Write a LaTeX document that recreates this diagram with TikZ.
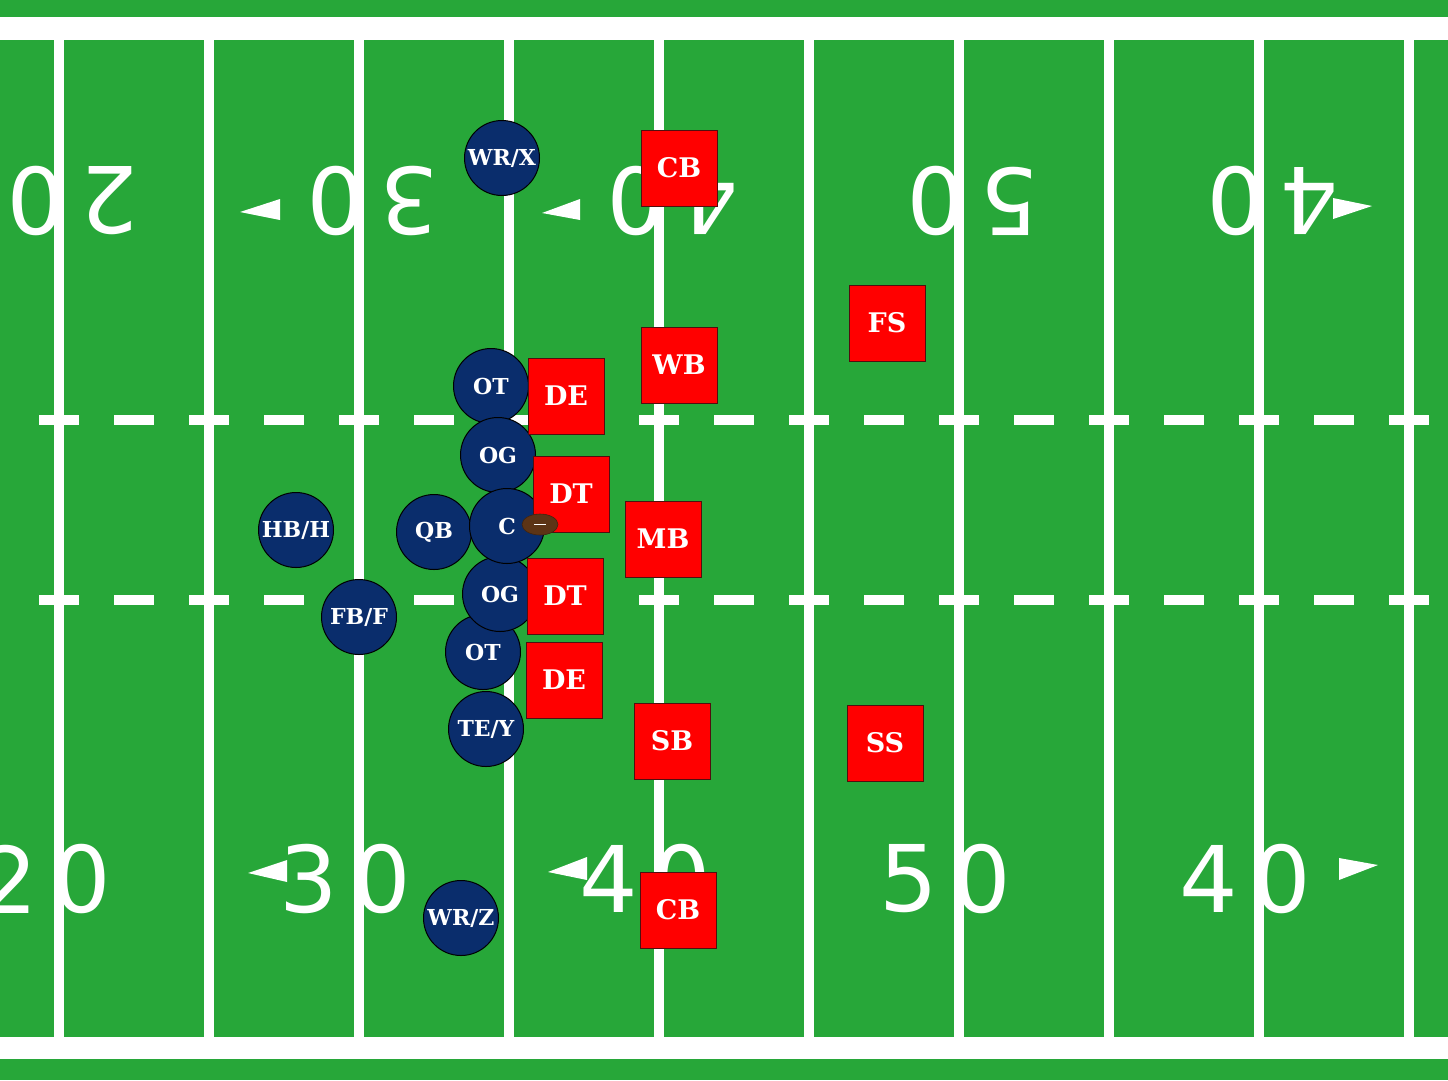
\documentclass[tikz,border=0pt]{standalone}
\usepackage{fontspec}
\usetikzlibrary{shapes.geometric}
\newfontfamily\numfont{DejaVu Sans}
\newfontfamily\plfont{DejaVu Serif}
\definecolor{turf}{RGB}{39,167,57}
\definecolor{navy}{RGB}{10,45,108}
\definecolor{redpl}{RGB}{255,0,0}
\definecolor{edgered}{RGB}{80,15,15}
\definecolor{ballbrown}{RGB}{92,52,22}
\tikzset{
  numtxt/.style={text=white, inner sep=0pt, font=\numfont\fontsize{92}{92}\selectfont},
  offp/.style={circle, draw=black, line width=1pt, fill=navy, minimum size=75pt, inner sep=0pt,
    text=white, font=\plfont\bfseries\fontsize{22}{22}\selectfont},
  defp/.style={rectangle, draw=edgered, line width=1pt, fill=redpl, minimum size=76pt, inner sep=0pt,
    text=white, font=\plfont\bfseries\fontsize{27}{27}\selectfont},
  ballst/.style={ellipse, fill=ballbrown, draw=ballbrown!70!black, line width=0.6pt,
    minimum width=36pt, minimum height=21pt, inner sep=0pt}
}
\begin{document}
\begin{tikzpicture}[x=1pt,y=-1pt]
\useasboundingbox (0,0) rectangle (1448,1080);
% turf
\fill[turf] (0,0) rectangle (1448,1080);
% sidelines
\fill[white] (0,17) rectangle (1448,40);
\fill[white] (0,1037) rectangle (1448,1059);
% yard numbers
\foreach \L/\d in {59/2,359/3,659/4,959/5,1259/4} {
  \node[numtxt] (bt\L) at (\L-50,879) {\d};
  \node[numtxt] (bz\L) at (\L+23,879) {0};
  \node[numtxt, rotate=180] (tt\L) at (\L+50,201) {\d};
  \node[numtxt, rotate=180] (tz\L) at (\L-23,201) {0};
}
% direction arrows
\fill[white] (248,873) -- (287,860) -- (287,882) -- cycle;
\fill[white] (548,872) -- (587,857) -- (587,880) -- cycle;
\fill[white] (1378,865) -- (1339,858) -- (1339,880) -- cycle;
\fill[white] (240,212) -- (280,199) -- (280,220) -- cycle;
\fill[white] (542,213) -- (580,199) -- (580,220) -- cycle;
\fill[white] (1372,206) -- (1333,198) -- (1333,219) -- cycle;
% yard lines
\foreach \x in {59,209,...,1409} \fill[white] (\x-5,40) rectangle (\x+5,1037);
% hash marks
\foreach \k in {0,...,18} {
  \fill[white] ({59+75*\k-20},415) rectangle ({59+75*\k+20},425);
  \fill[white] ({59+75*\k-20},595) rectangle ({59+75*\k+20},605);
}
% offense
\node[offp] (wrx) at (502,158) {WR/X};
\node[offp] (hb) at (296,530) {HB/H};
\node[offp] (fb) at (359,617) {FB/F};
\node[offp] (qb) at (434,532) {QB};
\node[offp] (ot1) at (491,386) {OT};
\node[offp] (og1) at (498,455) {OG};
\node[offp] (ot2) at (483,652) {OT};
\node[offp] (og2) at (500,594) {OG};
\node[offp] (c) at (507,526) {C};
\node[offp] (te) at (486,729) {TE/Y};
\node[offp] (wrz) at (461,918) {WR/Z};
% defense
\node[defp] (cb1) at (679,168) {CB};
\node[defp] (wb) at (679,365) {WB};
\node[defp] (de1) at (566,396) {DE};
\node[defp] (fs) at (887,323) {FS};
\node[defp] (dt1) at (571,494) {DT};
\node[defp] (mb) at (663,539) {MB};
\node[defp] (dt2) at (565,596) {DT};
\node[defp] (de2) at (564,680) {DE};
\node[defp] (sb) at (672,741) {SB};
\node[defp] (ss) at (885,743) {SS};
\node[defp] (cb2) at (678,910) {CB};
% football
\node[ballst] (ball) at (540,524.5) {};
\draw[white, line width=1.6pt] ([xshift=-6pt]ball.center) -- ([xshift=6pt]ball.center);
\end{tikzpicture}
\end{document}
